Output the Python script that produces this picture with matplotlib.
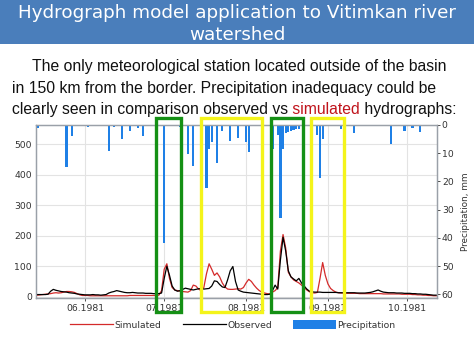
import numpy as np
import pandas as pd
import matplotlib
matplotlib.use("Agg")
import matplotlib.pyplot as plt
import matplotlib.dates as mdates
import matplotlib.transforms as mtransforms
from matplotlib.patches import Rectangle, Patch
from matplotlib.lines import Line2D

# ---------------- data ----------------
start_date = "1981-05-13"

observed = [
    7, 7, 7, 7, 7, 8, 18, 24, 21, 19,
    17, 16, 15, 13, 12, 11, 9, 8, 7, 6,
    6, 6, 7, 6, 6, 5, 6, 7, 12, 15,
    17, 20, 18, 16, 14, 13, 13, 14, 13, 12,
    12, 12, 11, 11, 11, 10, 10, 10, 12, 60,
    100, 70, 35, 22, 18, 20, 24, 28, 26, 24,
    22, 24, 26, 27, 25, 26, 27, 35, 52, 50,
    40, 32, 30, 55, 85, 99, 50, 22, 18, 15,
    14, 13, 12, 11, 10, 9, 8, 7, 7, 8,
    20, 38, 25, 120, 195, 150, 85, 65, 58, 52,
    60, 45, 35, 25, 18, 16, 15, 15, 15, 14,
    14, 14, 14, 14, 14, 13, 13, 13, 13, 13,
    13, 13, 12, 12, 12, 12, 13, 14, 16, 19,
    22, 18, 15, 14, 13, 13, 13, 12, 12, 12,
    11, 11, 11, 10, 10, 9, 9, 8, 8, 7,
    6, 5, 5,
]

simulated = [
    5, 5, 6, 7, 8, 9, 10, 12, 13, 12,
    13, 15, 17, 17, 16, 14, 10, 6, 4, 4,
    4, 3, 3, 3, 3, 3, 3, 3, 3, 3,
    3, 3, 3, 3, 3, 3, 4, 4, 4, 4,
    4, 4, 4, 4, 4, 4, 4, 5, 20, 90,
    108, 60, 30, 22, 20, 18, 17, 16, 15, 20,
    38, 35, 25, 20, 30, 75, 108, 90, 70, 78,
    65, 45, 32, 25, 24, 24, 25, 26, 25, 30,
    45, 57, 50, 38, 28, 20, 15, 12, 10, 9,
    15, 20, 30, 150, 204, 160, 80, 65, 55, 50,
    45, 38, 30, 22, 16, 13, 12, 14, 60, 112,
    70, 42, 27, 20, 15, 13, 12, 12, 11, 11,
    11, 11, 11, 10, 10, 10, 10, 10, 10, 10,
    10, 10, 9, 9, 9, 9, 9, 9, 9, 8,
    8, 8, 8, 7, 7, 6, 6, 5, 5, 4,
    4, 3, 3,
]

precip_dates = [
    "1981-05-14", "1981-05-25", "1981-05-27", "1981-06-02", "1981-06-10",
    "1981-06-12", "1981-06-15", "1981-06-18", "1981-06-21", "1981-06-23",
    "1981-07-01", "1981-07-07", "1981-07-10", "1981-07-12", "1981-07-17",
    "1981-07-18", "1981-07-19", "1981-07-21", "1981-07-23", "1981-07-26",
    "1981-07-29", "1981-08-01", "1981-08-02", "1981-08-11", "1981-08-13",
    "1981-08-14", "1981-08-15", "1981-08-16", "1981-08-17", "1981-08-18",
    "1981-08-19", "1981-08-20", "1981-08-21", "1981-08-28", "1981-08-29",
    "1981-08-30", "1981-09-06", "1981-09-11", "1981-09-25", "1981-09-30",
    "1981-10-03", "1981-10-06",
]
precip_mm = [
    1.0, 15.0, 3.8, 0.7, 9.3,
    0.8, 4.8, 2.3, 1.1, 3.8,
    41.8, 0.6, 10.2, 14.5, 22.3,
    8.5, 6.0, 13.5, 2.2, 5.5,
    4.6, 6.2, 9.7, 8.5, 3.5,
    32.9, 8.5, 2.8, 2.6, 2.0,
    1.8, 1.4, 1.3, 3.5, 18.9,
    5.0, 1.4, 2.9, 6.7, 2.3,
    1.0, 2.6,
]

month_ticks = ["1981-06-01", "1981-07-01", "1981-08-01", "1981-09-01", "1981-10-01"]
month_labels = ["06.1981", "07.1981", "08.1981", "09.1981", "10.1981"]
flow_ticks = [0, 100, 200, 300, 400, 500]
precip_ticks = [0, 10, 20, 30, 40, 50, 60]

green_periods = [("1981-06-27 19:00", "1981-07-07 07:00"),
                 ("1981-08-10 10:00", "1981-08-22 10:00")]
yellow_periods = [("1981-07-14 19:00", "1981-08-07 05:00"),
                  ("1981-08-25 14:00", "1981-09-07 02:00")]

title_lines = ["Hydrograph model application to Vitimkan river", "watershed"]
body_line1 = "The only meteorological station located outside of the basin"
body_line2 = "in 150 km from the border. Precipitation inadequacy could be"
body_line3 = ["clearly seen in comparison observed vs", " simulated", " hydrographs:"]

# ---------------- figure ----------------
W, H = 474, 355
fig = plt.figure(figsize=(W / 100, H / 100), dpi=100)
fig.patch.set_facecolor("white")

# axes
ax = fig.add_axes([36 / W, 1 - 298 / H, 401 / W, 173 / H])
ax2 = ax.twinx()

# title band
fig.patches.append(Rectangle((0, 1 - 44 / H), 1, 44 / H, transform=fig.transFigure,
                             facecolor="#4a7ebb", edgecolor="none", zorder=0))
fig.text(0.5, 1 - 18.5 / H, title_lines[0], ha="center", va="baseline",
         color="white", fontsize=13.2, family="DejaVu Sans")
fig.text(0.5, 1 - 39.5 / H, title_lines[1], ha="center", va="baseline",
         color="white", fontsize=13.2, family="DejaVu Sans")

body_font = dict(fontsize=11.3, family="Liberation Sans")
fig.text(32 / W, 1 - 71.5 / H, body_line1, ha="left", va="baseline",
         color="#111111", **body_font)
fig.text(12.5 / W, 1 - 92.8 / H, body_line2, ha="left", va="baseline",
         color="#111111", **body_font)
t1 = fig.text(12 / W, 1 - 114 / H, body_line3[0], ha="left", va="baseline",
              color="#111111", **body_font)
ann2 = ax.annotate(body_line3[1], xy=(1, 0), xycoords=t1, va="bottom", ha="left",
                   annotation_clip=False, color="#c0141c", **body_font)
ann3 = ax.annotate(body_line3[2], xy=(1, 0), xycoords=ann2, va="bottom", ha="left",
                   annotation_clip=False, color="#111111", **body_font)

dates = pd.date_range(start_date, periods=len(observed), freq="D")
ax.plot(dates, simulated, color="#d42a2a", lw=0.9, zorder=3)
ax.plot(dates, observed, color="black", lw=0.9, zorder=4)

pdates = pd.to_datetime(precip_dates)
ax2.bar(pdates, precip_mm, width=0.85, color="#1f80e6", edgecolor="none", align="center")

start = pd.Timestamp(start_date)
ax.set_xlim(start + pd.Timedelta(days=0.45), start + pd.Timedelta(days=152.3))
ax.set_ylim(-4.3, 563.4)
ax2.set_ylim(61.3, 0)

ax.set_xticks(pd.to_datetime(month_ticks))
ax.set_xticklabels(month_labels)
ax.set_yticks(flow_ticks)
ax2.set_yticks(precip_ticks)

ax.grid(True, color="#e3e3e3", lw=0.8)
ax.set_axisbelow(True)

tick_color = "#333333"
for a in (ax, ax2):
    a.tick_params(axis="both", labelsize=6.7, colors=tick_color, length=2,
                  width=0.6, pad=1.5)
    for s in a.spines.values():
        s.set_color("#9aa0a8")
        s.set_linewidth(0.9)
ax.tick_params(axis="y", length=0, pad=3)
ax.tick_params(axis="x", pad=2)
ax2.set_ylabel("Precipitation, mm", fontsize=6.4, color=tick_color, labelpad=5)

# highlight boxes
trans = mtransforms.blended_transform_factory(ax.transData, ax.transAxes)
for periods, col in ((green_periods, "#159015"), (yellow_periods, "#f4f41a")):
    for p0, p1 in periods:
        x0 = mdates.date2num(pd.Timestamp(p0))
        x1 = mdates.date2num(pd.Timestamp(p1))
        r = Rectangle((x0, -0.081), x1 - x0, 1.121, transform=trans, fill=False,
                      edgecolor=col, lw=2.4, clip_on=False, zorder=20)
        ax2.add_patch(r)

# legend
handles = [Line2D([], [], color="#d42a2a", lw=0.9),
           Line2D([], [], color="black", lw=0.9),
           Patch(facecolor="#1f80e6", edgecolor="none")]
fig.legend(handles, ["Simulated", "Observed", "Precipitation"], loc="center",
           bbox_to_anchor=(233 / W, 1 - 325 / H), ncol=3, frameon=False,
           fontsize=6.7, handlelength=4.6, handletextpad=0.15, columnspacing=2.3,
           handleheight=1.1, labelcolor=tick_color)

fig.savefig("out.png", dpi=100)
